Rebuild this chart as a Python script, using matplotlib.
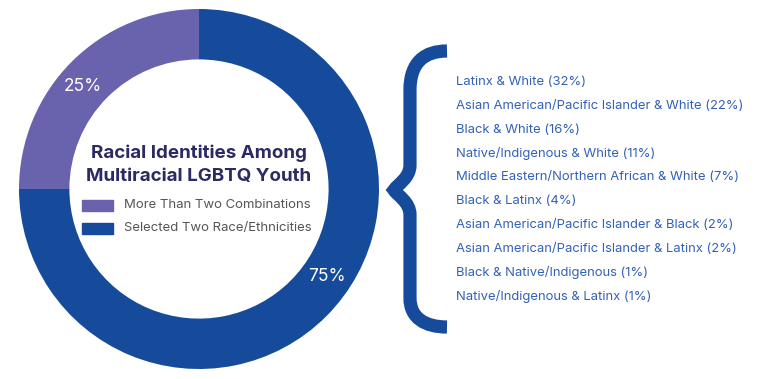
import matplotlib
matplotlib.use("Agg")
import matplotlib.pyplot as plt
import numpy as np
from matplotlib.path import Path
from matplotlib.patches import PathPatch, Rectangle

# data
groups = ["More Than Two Combinations", "Selected Two Race/Ethnicities"]
shares = [25, 75]
colors = ["#6962ad", "#164b9b"]

pairs = ["Latinx & White", "Asian American/Pacific Islander & White", "Black & White",
         "Native/Indigenous & White", "Middle Eastern/Northern African & White",
         "Black & Latinx", "Asian American/Pacific Islander & Black",
         "Asian American/Pacific Islander & Latinx", "Black & Native/Indigenous",
         "Native/Indigenous & Latinx"]
pair_pct = [32, 22, 16, 11, 7, 4, 2, 2, 1, 1]

title_lines = ["Racial Identities Among", "Multiracial LGBTQ Youth"]

plt.rcParams['font.family'] = ['Inter', 'DejaVu Sans']

W, H = 768, 379
fig = plt.figure(figsize=(W / 100, H / 100), dpi=100)

def fx(x):
    return x / W

def fy(y):
    return 1 - y / H   # y measured from top, in pixels

# donut
cx, cy, r = 199, 189, 180
ax = fig.add_axes([fx(cx - r), fy(cy + r), 2 * r / W, 2 * r / H])
wedges, _ = ax.pie(shares, colors=colors, startangle=90, counterclock=True,
                   radius=1, wedgeprops=dict(width=0.28, linewidth=0))
ax.set_xlim(-1, 1)
ax.set_ylim(-1, 1)
ax.set_aspect('auto')
ax.axis('off')

# percentage labels on the ring
for w, s in zip(wedges, shares):
    ang = np.deg2rad(w.theta1 + 0.54 * (w.theta2 - w.theta1))
    ax.text(0.86 * np.cos(ang), 0.86 * np.sin(ang), f"{s}%", color="white",
            fontsize=12.5, ha='center', va='center')

# center title and legend
for i, line in enumerate(title_lines):
    fig.text(fx(199), fy(153 + i * 24), line, ha='center', va='center', fontsize=13.5,
             fontweight='bold', color="#2b2a63")
for i, (g, c) in enumerate(zip(groups, colors)):
    y = 205 + i * 23
    fig.patches.append(Rectangle((fx(82), fy(y + 5.5)), fx(31), 11 / H,
                                 transform=fig.transFigure, color=c, figure=fig))
    fig.text(fx(124), fy(y), g, ha='left', va='center', fontsize=9.45, color="#555555")

# brace
pts = [(447, 51), (425, 51), (410, 62), (410, 90),
       (410, 165),
       (410, 178), (398, 184), (394, 190),
       (398, 196), (410, 202), (410, 215),
       (410, 298),
       (410, 318), (425, 327), (447, 327)]
codes = [Path.MOVETO, Path.CURVE4, Path.CURVE4, Path.CURVE4,
         Path.LINETO,
         Path.CURVE4, Path.CURVE4, Path.CURVE4,
         Path.CURVE4, Path.CURVE4, Path.CURVE4,
         Path.LINETO,
         Path.CURVE4, Path.CURVE4, Path.CURVE4]
brace = Path([(fx(x), fy(y)) for x, y in pts], codes)
fig.patches.append(PathPatch(brace, transform=fig.transFigure, fill=False,
                             edgecolor="#164b9b", linewidth=9.5, capstyle='butt',
                             joinstyle='miter', figure=fig))

# list of two-race combinations
for i, (p, v) in enumerate(zip(pairs, pair_pct)):
    fig.text(fx(456), fy(82 + i * 23.8), f"{p} ({v}%)", ha='left', va='center',
             fontsize=9.4, color="#3361b6")

fig.savefig("out.png", dpi=100, facecolor="white")
